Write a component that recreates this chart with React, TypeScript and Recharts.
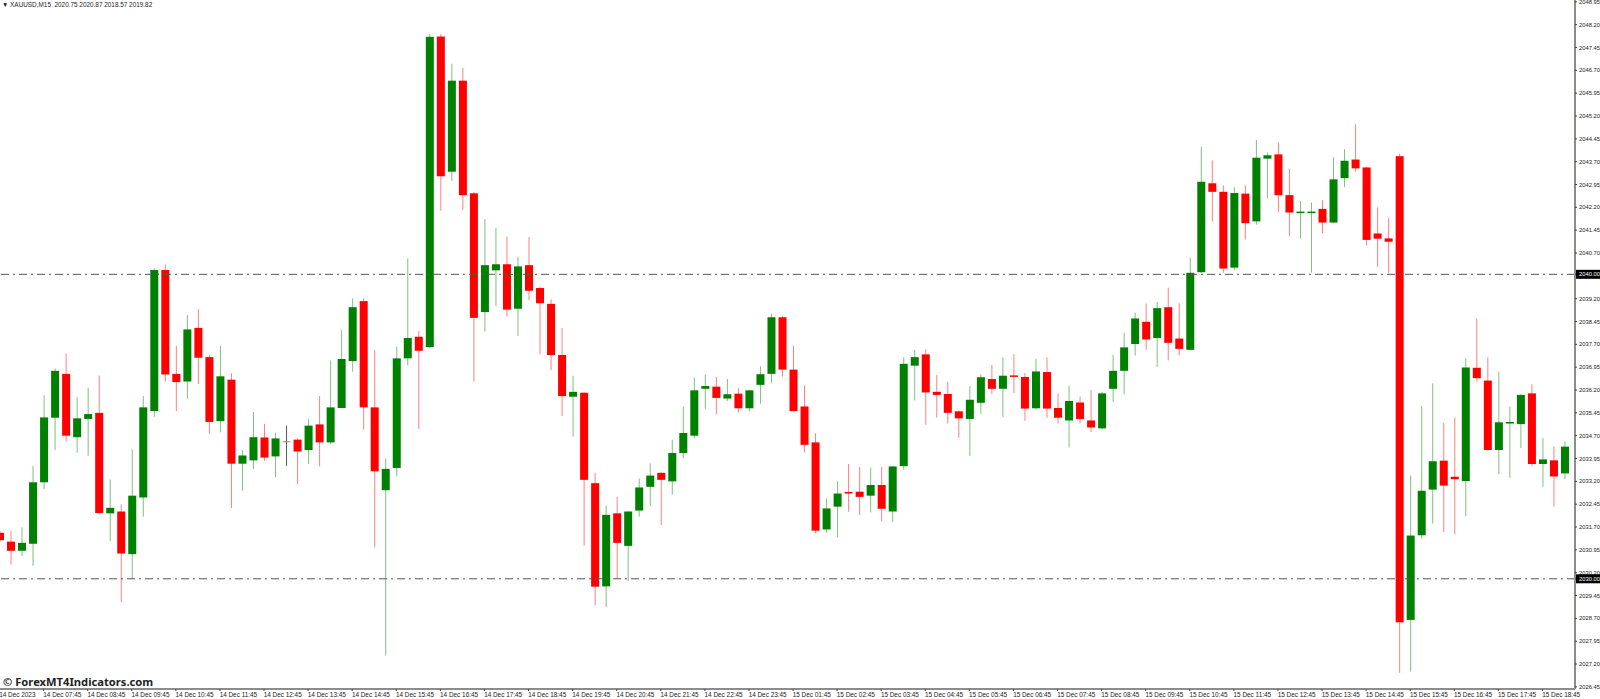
import React from 'react';
import { ComposedChart, Bar, XAxis, YAxis, ReferenceLine } from 'recharts';

// XAUUSD M15, 14 Dec 2023 - 15 Dec 2023, prices
const opens = [
  2031.51, 2031.22, 2030.92, 2031.15, 2033.17, 2035.29, 2036.73, 2034.65, 2035.25, 2035.45,
  2032.15, 2032.21, 2030.81, 2032.67, 2035.51, 2040.14, 2036.73, 2036.48, 2038.24, 2037.28,
  2035.18, 2036.54, 2033.78, 2033.89, 2034.64, 2034.02, 2034.5, 2034.57, 2034.23, 2035.07,
  2034.48, 2035.61, 2037.15, 2039.12, 2035.63, 2032.91, 2033.64, 2037.24, 2037.95, 2037.61,
  2047.81, 2043.37, 2046.36, 2042.66, 2038.76, 2040.13, 2040.33, 2038.87, 2040.3, 2039.55,
  2039.03, 2037.35, 2035.98, 2036.11, 2033.14, 2029.75, 2032.15, 2031.08, 2032.24, 2033.02,
  2033.48, 2033.2, 2034.13, 2034.7, 2036.24, 2036.31, 2035.92, 2036.08, 2035.6, 2036.37,
  2036.73, 2038.59, 2036.87, 2035.66, 2034.48, 2031.62, 2032.37, 2032.85, 2032.86, 2032.73,
  2033.08, 2032.21, 2033.7, 2037.0, 2037.37, 2036.14, 2036.07, 2035.5, 2035.25, 2035.78,
  2036.56, 2036.24, 2036.68, 2036.63, 2035.6, 2036.79, 2035.61, 2035.2, 2035.79, 2035.2,
  2034.94, 2036.24, 2036.83, 2037.71, 2038.44, 2037.91, 2038.92, 2037.89, 2037.52, 2040.07,
  2042.99, 2042.71, 2040.22, 2042.65, 2041.74, 2043.8, 2043.94, 2042.6, 2042.04, 2042.04,
  2042.15, 2041.7, 2043.16, 2043.77, 2043.51, 2041.34, 2041.18, 2043.88, 2028.65, 2031.43,
  2032.93, 2033.88, 2033.35, 2033.21, 2036.93, 2036.51, 2034.23, 2035.1, 2035.08, 2036.09,
  2033.77, 2033.89, 2033.46,
];
const highs = [
  2031.56, 2031.58, 2031.69, 2033.71, 2036.02, 2036.91, 2037.4, 2035.96, 2036.28, 2036.68,
  2033.26, 2032.44, 2034.25, 2036.0, 2040.2, 2040.32, 2037.65, 2038.66, 2038.85, 2037.36,
  2037.65, 2036.75, 2034.23, 2035.48, 2035.09, 2034.8, 2035.03, 2034.61, 2035.24, 2036.0,
  2037.17, 2038.17, 2039.21, 2039.21, 2037.51, 2033.95, 2037.63, 2040.52, 2038.14, 2047.9,
  2047.9, 2046.92, 2046.78, 2042.7, 2041.81, 2041.53, 2041.24, 2040.58, 2041.22, 2039.6,
  2039.18, 2038.24, 2036.67, 2036.13, 2033.48, 2032.41, 2032.69, 2032.22, 2033.3, 2033.79,
  2033.5, 2034.57, 2035.65, 2036.61, 2036.7, 2036.63, 2036.56, 2036.26, 2036.21, 2036.98,
  2038.71, 2038.63, 2037.65, 2036.35, 2034.78, 2032.64, 2033.2, 2033.77, 2033.67, 2033.65,
  2033.67, 2033.7, 2037.27, 2037.51, 2037.54, 2036.7, 2036.47, 2035.53, 2036.33, 2036.71,
  2037.02, 2037.27, 2037.38, 2036.76, 2037.23, 2037.27, 2036.09, 2036.34, 2035.98, 2036.2,
  2036.14, 2037.36, 2038.08, 2038.74, 2039.04, 2039.09, 2039.56, 2039.05, 2040.55, 2044.19,
  2043.74, 2042.92, 2042.86, 2042.92, 2044.41, 2044.0, 2044.33, 2043.46, 2042.41, 2042.36,
  2042.43, 2043.84, 2044.11, 2044.93, 2043.53, 2042.2, 2041.86, 2043.97, 2033.39, 2035.67,
  2036.42, 2035.12, 2035.3, 2037.24, 2038.55, 2037.27, 2036.8, 2035.66, 2036.06, 2036.39,
  2034.62, 2034.35, 2034.51,
];
const lows = [
  2031.22, 2030.47, 2030.74, 2030.43, 2032.94, 2034.23, 2034.51, 2034.14, 2034.04, 2032.12,
  2031.24, 2029.24, 2030.0, 2032.04, 2035.32, 2036.48, 2035.51, 2035.91, 2036.4, 2034.76,
  2034.81, 2032.32, 2032.89, 2033.61, 2033.88, 2033.34, 2033.71, 2033.11, 2033.77, 2033.69,
  2034.43, 2035.6, 2036.8, 2034.9, 2031.03, 2027.48, 2033.37, 2037.01, 2034.92, 2037.58,
  2042.09, 2043.07, 2042.11, 2036.48, 2038.12, 2038.96, 2038.61, 2037.98, 2039.15, 2037.37,
  2036.85, 2035.35, 2034.67, 2031.09, 2029.13, 2029.07, 2030.0, 2029.92, 2032.04, 2032.39,
  2031.76, 2032.76, 2033.96, 2034.61, 2035.58, 2035.41, 2035.84, 2035.46, 2035.5, 2035.75,
  2036.42, 2036.64, 2035.49, 2034.15, 2031.49, 2031.51, 2031.36, 2032.2, 2032.09, 2032.18,
  2031.89, 2031.87, 2033.59, 2035.86, 2035.06, 2035.29, 2035.1, 2034.63, 2034.04, 2035.42,
  2036.06, 2035.31, 2036.1, 2035.19, 2035.56, 2035.29, 2035.1, 2034.32, 2035.1, 2034.82,
  2034.91, 2035.81, 2036.06, 2037.33, 2037.52, 2036.96, 2037.17, 2037.34, 2037.5, 2040.04,
  2041.73, 2040.05, 2040.13, 2041.14, 2041.63, 2042.5, 2042.04, 2041.25, 2041.17, 2040.06,
  2041.35, 2041.68, 2042.87, 2043.37, 2040.94, 2040.24, 2040.04, 2026.91, 2026.95, 2031.31,
  2031.81, 2031.54, 2031.46, 2032.05, 2036.48, 2034.21, 2033.43, 2033.32, 2034.29, 2033.7,
  2033.02, 2032.37, 2033.28,
];
const closes = [
  2031.27, 2030.92, 2031.18, 2033.17, 2035.3, 2036.83, 2034.7, 2035.27, 2035.41, 2032.16,
  2032.33, 2030.83, 2032.73, 2035.63, 2040.14, 2036.71, 2036.46, 2038.19, 2037.26, 2035.15,
  2036.65, 2033.78, 2034.05, 2034.65, 2033.98, 2034.61, 2034.5, 2034.18, 2035.03, 2034.48,
  2035.63, 2037.22, 2038.92, 2035.63, 2033.53, 2033.61, 2037.24, 2037.91, 2037.49, 2047.8,
  2043.22, 2046.36, 2042.6, 2038.57, 2040.3, 2040.33, 2038.84, 2040.26, 2039.46, 2039.05,
  2037.35, 2036.0, 2036.14, 2033.25, 2029.74, 2032.1, 2031.18, 2032.21, 2033.0, 2033.39,
  2033.25, 2034.13, 2034.79, 2036.19, 2036.33, 2035.94, 2036.06, 2035.6, 2036.19, 2036.72,
  2038.59, 2036.87, 2035.51, 2034.4, 2031.58, 2032.31, 2032.8, 2032.82, 2032.69, 2033.08,
  2032.3, 2033.69, 2037.06, 2037.28, 2036.12, 2036.04, 2035.45, 2035.27, 2035.88, 2036.62,
  2036.24, 2036.67, 2036.64, 2035.59, 2036.81, 2035.59, 2035.29, 2035.84, 2035.25, 2034.97,
  2036.09, 2036.83, 2037.6, 2038.55, 2037.86, 2038.89, 2037.75, 2037.55, 2040.05, 2043.04,
  2042.71, 2040.19, 2042.67, 2041.68, 2043.83, 2043.91, 2042.6, 2042.03, 2042.06, 2042.06,
  2041.7, 2043.12, 2043.73, 2043.48, 2041.13, 2041.17, 2041.07, 2028.57, 2031.42, 2032.89,
  2033.86, 2033.06, 2033.27, 2036.94, 2036.59, 2034.23, 2035.14, 2035.15, 2036.04, 2033.77,
  2033.92, 2033.36, 2034.34,
];

const priceTicks = [
  2048.95, 2048.2, 2047.45, 2046.7, 2045.95, 2045.2, 2044.45, 2043.7, 2042.95, 2042.2,
  2041.45, 2040.7, 2039.2, 2038.45, 2037.7, 2036.95, 2036.2, 2035.45, 2034.7, 2033.95,
  2033.2, 2032.45, 2031.7, 2030.95, 2030.2, 2029.45, 2028.7, 2027.95, 2027.2, 2026.45,
  2040, 2030,
];
const levels = [2040, 2030];

const timeLabels = [
  '14 Dec 2023', '14 Dec 07:45', '14 Dec 08:45', '14 Dec 09:45', '14 Dec 10:45', '14 Dec 11:45',
  '14 Dec 12:45', '14 Dec 13:45', '14 Dec 14:45', '14 Dec 15:45', '14 Dec 16:45', '14 Dec 17:45',
  '14 Dec 18:45', '14 Dec 19:45', '14 Dec 20:45', '14 Dec 21:45', '14 Dec 22:45', '14 Dec 23:45',
  '15 Dec 01:45', '15 Dec 02:45', '15 Dec 03:45', '15 Dec 04:45', '15 Dec 05:45', '15 Dec 06:45',
  '15 Dec 07:45', '15 Dec 08:45', '15 Dec 09:45', '15 Dec 10:45', '15 Dec 11:45', '15 Dec 12:45',
  '15 Dec 13:45', '15 Dec 14:45', '15 Dec 15:45', '15 Dec 16:45', '15 Dec 17:45', '15 Dec 18:45',
];

const data = opens.map((open, i) => ({
  idx: i,
  open,
  close: closes[i],
  high: highs[i],
  low: lows[i],
  range: [lows[i], highs[i]],
}));
const timeTicks = timeLabels.map((_, i) => i * 4);

const FONT = '"Liberation Sans", sans-serif';

function Candle({ x, y, width, height, payload }: any) {
  const { open, close, high, low } = payload;
  const perPrice = height / (high - low);
  const top = y + (high - Math.max(open, close)) * perPrice;
  const bodyH = Math.abs(open - close) * perPrice;
  const cx = x + width / 2;
  if (open === close) {
    return (
      <g>
        <line x1={cx} x2={cx} y1={y} y2={y + height} stroke="#555" strokeWidth={1} />
        <line x1={x} x2={x + width} y1={top} y2={top} stroke="#888" strokeWidth={1} />
      </g>
    );
  }
  const color = close > open ? '#008000' : '#ff0000';
  return (
    <g>
      <line x1={cx} x2={cx} y1={y} y2={y + height} stroke={color} strokeOpacity={0.5} strokeWidth={1} />
      <rect x={x} y={top} width={width} height={Math.max(bodyH, 1.5)} fill={color} />
    </g>
  );
}

function PriceTick({ x, y, payload }: any) {
  const label = payload.value.toFixed(2);
  if (levels.includes(payload.value)) {
    return (
      <g>
        <rect x={x - 3} y={y - 4.5} width={26} height={9} fill="#000" />
        <text x={x} y={y + 2.1} fontSize={5.8} fontFamily={FONT} fill="#fff">{label}</text>
      </g>
    );
  }
  return (
    <text x={x} y={y + 2.1} fontSize={5.8} fontFamily={FONT} fill="#222">{label}</text>
  );
}

function TimeTick({ x, y, payload }: any) {
  return (
    <text x={x - 0.3} y={y + 4} fontSize={6.4} fontFamily={FONT} fill="#222">
      {timeLabels[payload.value / 4]}
    </text>
  );
}

export default function App() {
  return (
    <div style={{ position: 'absolute', left: 0, top: 0, width: 1600, height: 699, background: '#fff', overflow: 'hidden' }}>
      <ComposedChart
        width={1600}
        height={699}
        data={data}
        margin={{ top: 0, right: 0, bottom: 0, left: -6 }}
      >
        <XAxis
          dataKey="idx"
          ticks={timeTicks}
          interval={0}
          height={10}
          padding={{ left: 0, right: 5 }}
          tick={<TimeTick />}
          tickSize={2}
          tickLine={{ stroke: '#444' }}
          axisLine={{ stroke: '#8c8c8c', strokeWidth: 2 }}
        />
        <YAxis
          orientation="right"
          width={25}
          domain={[2026.38, 2049.01]}
          allowDataOverflow
          ticks={priceTicks}
          interval={0}
          tick={<PriceTick />}
          tickSize={2}
          tickMargin={2}
          tickLine={{ stroke: '#444' }}
          axisLine={{ stroke: '#8c8c8c', strokeWidth: 2 }}
        />
        <Bar dataKey="range" barSize={8} isAnimationActive={false} shape={<Candle />} />
        {levels.map((level) => (
          <ReferenceLine key={level} y={level} stroke="#555" strokeWidth={1} strokeDasharray="8 4 2 4" />
        ))}
      </ComposedChart>
      <div style={{ position: 'absolute', left: 2, top: 0, fontFamily: FONT, fontSize: 6.4, lineHeight: '9px', color: '#222', whiteSpace: 'pre' }}>
        {'▼ XAUUSD,M15  2020.75 2020.87 2018.57 2019.82'}
      </div>
      <div style={{ position: 'absolute', left: 3, top: 674, fontFamily: '"Noto Sans", sans-serif', fontWeight: 700, fontSize: 11.2, lineHeight: '15px', color: '#222', whiteSpace: 'pre' }}>
        © ForexMT4Indicators.com
      </div>
    </div>
  );
}
